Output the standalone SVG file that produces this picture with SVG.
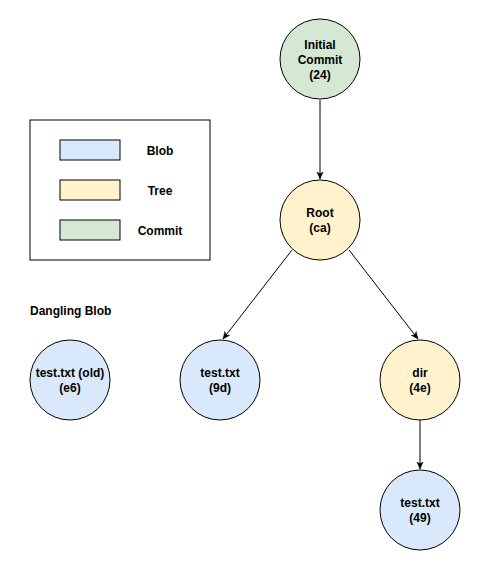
<svg xmlns="http://www.w3.org/2000/svg" width="481" height="571" viewBox="0 0 481 571">
<style>
text{font-family:"Liberation Sans",Arial,sans-serif;font-size:12px;font-weight:bold;fill:#000}
.c{text-anchor:middle}
.n{stroke:#000;stroke-width:1}
.blob{fill:#dae8fc}
.tree{fill:#fff2cc}
.commit{fill:#d5e8d4}
.e{stroke:#000;stroke-width:1;fill:none;marker-end:url(#arr)}
</style>
<defs>
<marker id="arr" viewBox="0 0 10 10" refX="9" refY="5" markerWidth="8" markerHeight="8" markerUnits="userSpaceOnUse" orient="auto">
<path d="M0,1 L9,5 L0,9 L2.5,5 Z" fill="#000" stroke="#000" stroke-width="0.5"/>
</marker>
</defs>
<rect width="481" height="571" fill="#fff"/>
<g id="legend">
<rect x="30" y="120" width="180" height="140" fill="#fff" class="n"/>
<rect x="60" y="140" width="60" height="20" class="n blob"/>
<rect x="60" y="180" width="60" height="20" class="n tree"/>
<rect x="60" y="220" width="60" height="20" class="n commit"/>
<text x="160" y="155" class="c">Blob</text>
<text x="160" y="195" class="c">Tree</text>
<text x="160" y="235" class="c">Commit</text>
</g>
<g id="dangling-label"><text x="30" y="315">Dangling Blob</text></g>
<g id="connectors">
<path class="e" d="M320,100 L320,179"/>
<path class="e" d="M292,250 L223,339"/>
<path class="e" d="M349,250 L418,339"/>
<path class="e" d="M420,420 L420,469"/>
</g>
<g id="commit24">
<circle cx="320" cy="59" r="40" class="n commit"/>
<text x="320" y="49" class="c">Initial</text>
<text x="320" y="64" class="c">Commit</text>
<text x="320" y="79" class="c">(24)</text>
</g>
<g id="rootca">
<circle cx="320" cy="220" r="40" class="n tree"/>
<text x="320" y="217" class="c">Root</text>
<text x="320" y="232" class="c">(ca)</text>
</g>
<g id="blob9d">
<circle cx="220" cy="380" r="40" class="n blob"/>
<text x="220" y="377" class="c">test.txt</text>
<text x="220" y="392" class="c">(9d)</text>
</g>
<g id="tree4e">
<circle cx="420" cy="380" r="40" class="n tree"/>
<text x="420" y="377" class="c">dir</text>
<text x="420" y="392" class="c">(4e)</text>
</g>
<g id="blob49">
<circle cx="420" cy="510" r="40" class="n blob"/>
<text x="420" y="507" class="c">test.txt</text>
<text x="420" y="522" class="c">(49)</text>
</g>
<g id="blobe6">
<circle cx="70" cy="380" r="40" class="n blob"/>
<text x="70" y="377" class="c">test.txt (old)</text>
<text x="70" y="392" class="c">(e6)</text>
</g>
</svg>
